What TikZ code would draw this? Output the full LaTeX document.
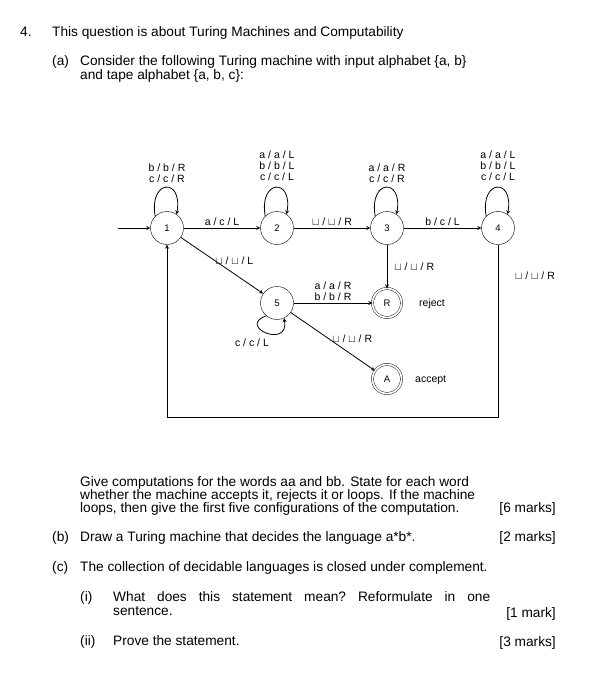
\documentclass[tikz,border=0pt]{standalone}
\usepackage{fontspec}
\setmainfont{Liberation Sans}
\begin{document}
\begin{tikzpicture}[x=1pt,y=-1pt,
  st/.style={circle,draw,thin,minimum size=33pt,inner sep=0pt,font=\fontsize{9.5}{10}\selectfont},
  acc/.style={st,double,double distance=1.8pt,minimum size=29pt},
  tr/.style={->,>=stealth,thick},
  lb/.style={font=\fontsize{10.5}{13}\selectfont,align=center,inner sep=1pt},
  tx/.style={anchor=base west,inner sep=0pt,font=\fontsize{13.7}{13.5}\selectfont},
  mk/.style={anchor=base east,inner sep=0pt,font=\fontsize{13.7}{13.5}\selectfont}]
\useasboundingbox (0,0) rectangle (601,679);
\def\B{\ensuremath{\sqcup}}
\node[st] (n1) at (167,228) {1};
\node[st] (n2) at (277,228) {2};
\node[st] (n3) at (387,228) {3};
\node[st] (n4) at (498,228) {4};
\node[st] (n5) at (277,303) {5};
\node[acc] (nR) at (387,303) {R};
\node[acc] (nA) at (387,379) {A};
\coordinate (in) at (118,228);
\coordinate (c4) at (498,417);
\coordinate (c1) at (167,417);
\draw[tr] (in) -- (n1);
\draw[tr] (n1) -- node[lb,above,yshift=1pt]{a / c / L} (n2);
\draw[tr] (n2) -- node[lb,above,yshift=1pt]{\B\ / \B\ / R} (n3);
\draw[tr] (n3) -- node[lb,above,yshift=1pt]{b / c / L} (n4);
\draw[tr] (n3) -- node[lb,right,xshift=6pt]{\B\ / \B\ / R} (nR);
\draw[tr] (n1) -- node[lb,pos=0.45,above right,xshift=-4pt,yshift=-3pt]{\B\ / \B\ / L} (n5);
\draw[tr] (n5) -- node[lb,above,yshift=1pt]{a / a / R\\[-2pt]b / b / R} (nR);
\draw[tr] (n5) -- node[lb,pos=0.55,above right,xshift=-6pt]{\B\ / \B\ / R} (nA);
\draw[tr] (n4) -- (c4) -- (c1) -- (n1);
\node[lb] (l41) at (535,276) {\B\ / \B\ / R};
\draw[tr] (n1.135) to[out=100,in=80,looseness=4.5] (n1.55);
\draw[tr] (n2.135) to[out=100,in=80,looseness=4.5] (n2.55);
\draw[tr] (n3.135) to[out=100,in=80,looseness=4.5] (n3.55);
\draw[tr] (n4.135) to[out=100,in=80,looseness=4.5] (n4.55);
\draw[tr] (n5.230) to[out=200,in=-80,looseness=4.5] (n5.295);
\node[lb] (l1) at (167,173) {b / b / R\\[-2pt]c / c / R};
\node[lb] (l2) at (277,166) {a / a / L\\[-2pt]b / b / L\\[-2pt]c / c / L};
\node[lb] (l3) at (387,173) {a / a / R\\[-2pt]c / c / R};
\node[lb] (l4) at (498,166) {a / a / L\\[-2pt]b / b / L\\[-2pt]c / c / L};
\node[lb] (l5) at (252,343) {c / c / L};
\node[lb,anchor=west] (rj) at (418,304) {reject};
\node[lb,anchor=west] (ac) at (414,380) {accept};
\node[tx] at (20,37) {4.};
\node[tx] at (52,37) {This question is about Turing Machines and Computability};
\node[tx] at (52,66) {(a)};
\node[tx] at (80,66) {Consider the following Turing machine with input alphabet \{a, b\}};
\node[tx] at (80,80) {and tape alphabet \{a, b, c\}:};
\node[tx] at (80,486) {Give computations for the words aa and bb. State for each word};
\node[tx] at (80,499) {whether the machine accepts it, rejects it or loops. If the machine};
\node[tx] at (80,512) {loops, then give the first five configurations of the computation.};
\node[mk] at (556,512) {[6 marks]};
\node[tx] at (52,541) {(b)};
\node[tx] at (80,541) {Draw a Turing machine that decides the language a*b*.};
\node[mk] at (556,541) {[2 marks]};
\node[tx] at (52,571) {(c)};
\node[tx] at (80,571) {The collection of decidable languages is closed under complement.};
\node[tx] at (80,601) {(i)};
\node[tx] at (113,601) {\frenchspacing\makebox[377pt][s]{What does this statement mean? Reformulate in one}};
\node[tx] at (113,615) {sentence.};
\node[mk] at (556,617) {[1 mark]};
\node[tx] at (80,645) {(ii)};
\node[tx] at (113,645) {Prove the statement.};
\node[mk] at (556,646) {[3 marks]};
\end{tikzpicture}
\end{document}
